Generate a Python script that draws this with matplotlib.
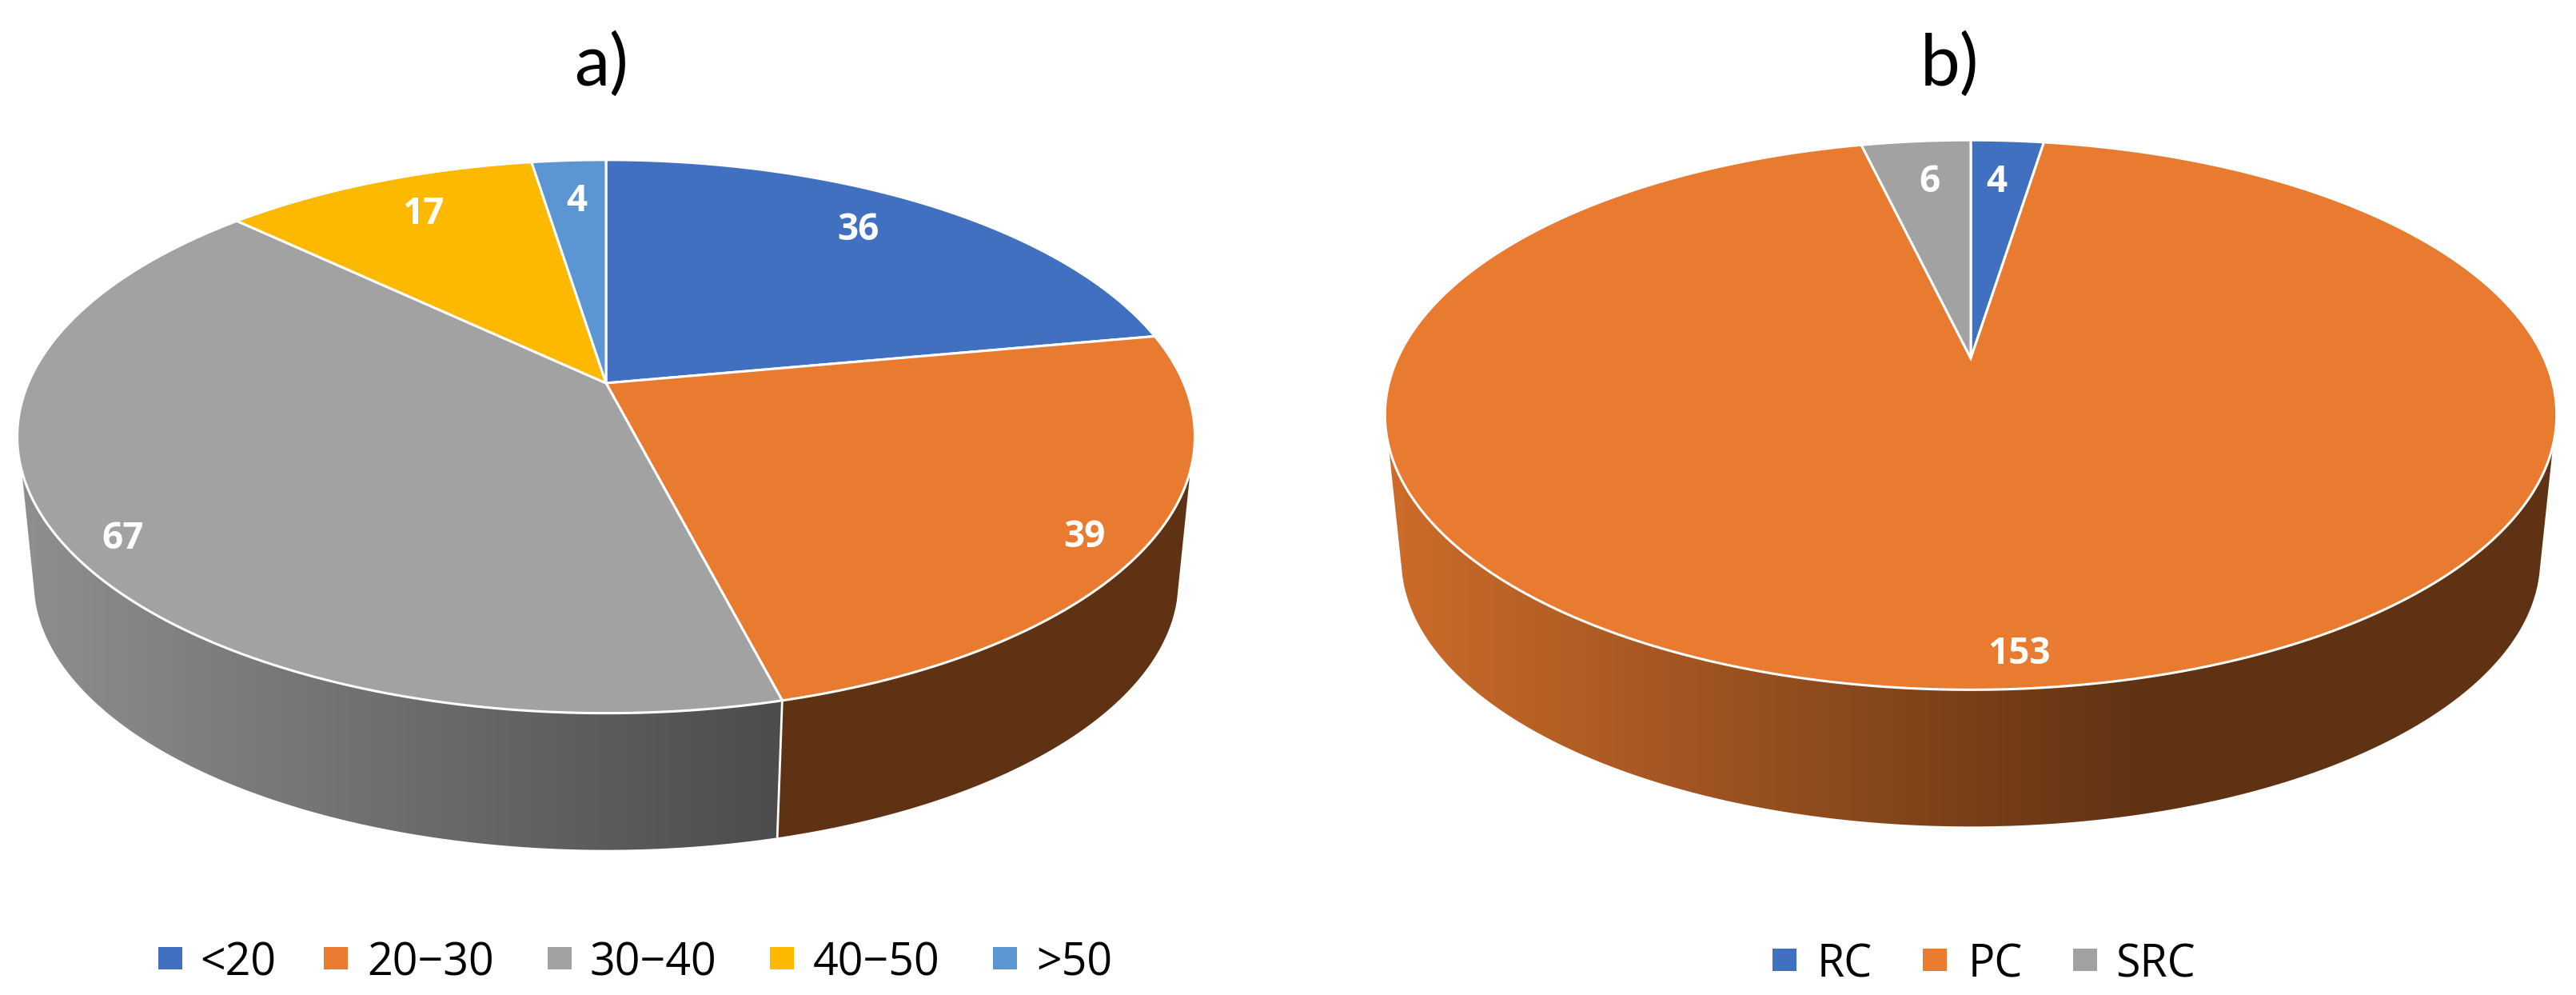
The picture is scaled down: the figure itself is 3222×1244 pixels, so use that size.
import numpy as np
import matplotlib
matplotlib.use('Agg')
import matplotlib.pyplot as plt
from matplotlib.patches import Polygon, Rectangle

# chart data
age_labels = ['<20', '20\u221230', '30\u221240', '40\u221250', '>50']
age_values = [36, 39, 67, 17, 4]
age_colors = ['#4270c0', '#e97b30', '#a2a2a2', '#fcb900', '#5b96d2']

type_labels = ['RC', 'PC', 'SRC']
type_values = [4, 153, 6]
type_colors = ['#4270c0', '#e97b30', '#a2a2a2']

# layout, in pixels of the full picture
age_label_pos = [(1073, 288), (1356, 672), (154, 673), (530, 267), (721, 252)]
type_label_pos = [(2497, 228), (2526, 818), (2413, 228)]
age_legend_marks = [198, 405, 685, 963, 1242]
age_legend_text = [250, 459, 738, 1017, 1296]
type_legend_marks = [2217, 2405, 2593]
type_legend_text = [2273, 2462, 2646]

DEPTH = 171
TAPER = 0.972
VISIBLE = (108, 252)  # part of the rim whose wall can be seen
TANGENT = 3           # the base arc runs a bit further than the rim
WALL_DARK = {'#a2a2a2': 0.47}  # grey does not go as dark as the orange

fig = plt.figure(figsize=(32.22, 12.44), dpi=100)
ax = fig.add_axes([0, 0, 1, 1])


def rim(t, cx, cy, a, b, k, r=1.0):
    u = r * np.sin(np.radians(t))
    v = r * np.cos(np.radians(t))
    d = 1 + k * v
    return cx + a * u / d, cy - b * v / d


def base(x, y, cx, bottom):
    yv = bottom + DEPTH / (1 - TAPER)
    return cx + TAPER * (x - cx), yv + TAPER * (y - yv)


def shade(x_rel, dark):
    return np.interp(x_rel, [0, 0.65, 1], [0.88, dark, dark])


def draw_pie(values, colors, cx, cy, a, b, k, left, width):
    edges = np.cumsum([0] + list(values)) / sum(values) * 360
    bottom = cy + b / (1 - k)

    # walls first, the top goes over them
    for i, col in enumerate(colors):
        t0 = max(edges[i], VISIBLE[0])
        t1 = min(edges[i + 1], VISIBLE[1])
        if t1 <= t0:
            continue
        x, y = rim(np.linspace(t0, t1, 200), cx, cy, a, b, k)
        tb0 = t0 - TANGENT if t0 == VISIBLE[0] else t0
        tb1 = t1 + TANGENT if t1 == VISIBLE[1] else t1
        xr, yr = rim(np.linspace(tb0, tb1, 200), cx, cy, a, b, k)
        xb, yb = base(xr, yr, cx, bottom)
        pts = np.r_[np.c_[x, y], np.c_[xb, yb][::-1]]
        poly = Polygon(pts, closed=True, fc='none', ec='none')
        ax.add_patch(poly)

        xs = np.linspace(0, 1, 256)
        rgb = np.array(matplotlib.colors.to_rgb(col))
        img = shade(xs, WALL_DARK.get(col, 0.41))[None, :, None] * rgb[None, None, :]
        im = ax.imshow(img, extent=(left, left + width, bottom + DEPTH + 5, cy),
                       aspect='auto', zorder=2, interpolation='bilinear')
        im.set_clip_path(poly)

    # white seams on the wall
    for e in edges:
        if VISIBLE[0] < e < VISIBLE[1]:
            x, y = rim(e, cx, cy, a, b, k)
            xb, yb = base(x, y, cx, bottom)
            ax.plot([x, xb], [y, yb], color='white', lw=2.0, zorder=3,
                    solid_capstyle='butt')

    for i, col in enumerate(colors):
        t = np.linspace(edges[i], edges[i + 1], 400)
        x, y = rim(t, cx, cy, a, b, k)
        pts = np.r_[[[cx, cy]], np.c_[x, y]]
        ax.add_patch(Polygon(pts, closed=True, fc=col, ec='white', lw=2.2,
                             joinstyle='miter', zorder=4))


def draw_legend(labels, colors, mark_x, text_x, y):
    for lab, col, mx, tx in zip(labels, colors, mark_x, text_x):
        ax.add_patch(Rectangle((mx, y - 14), 30, 28, fc=col, ec='none'))
        ax.text(tx, y, lab, fontsize=40, family='Open Sans', color='black',
                ha='left', va='center_baseline')


draw_pie(age_values, age_colors, 758, 479, 722.6, 333, 0.193, 21, 1473)
draw_pie(type_values, type_colors, 2465, 448, 717, 329, 0.206, 1732, 1466)

for val, (x, y) in zip(age_values + type_values, age_label_pos + type_label_pos):
    ax.text(x, y, str(val), fontsize=33, family='Open Sans', fontweight='bold',
            color='white', ha='center', va='center', zorder=6)

ax.text(752, 107, 'a)', fontsize=64, family='Lato', ha='center', va='baseline')
ax.text(2439, 107, 'b)', fontsize=64, family='Lato', ha='center', va='baseline')

draw_legend(age_labels, age_colors, age_legend_marks, age_legend_text, 1198)
draw_legend(type_labels, type_colors, type_legend_marks, type_legend_text, 1200)

ax.set_xlim(0, 3222)
ax.set_ylim(1244, 0)
ax.axis('off')

fig.savefig('out.png', dpi=100, facecolor='white')
